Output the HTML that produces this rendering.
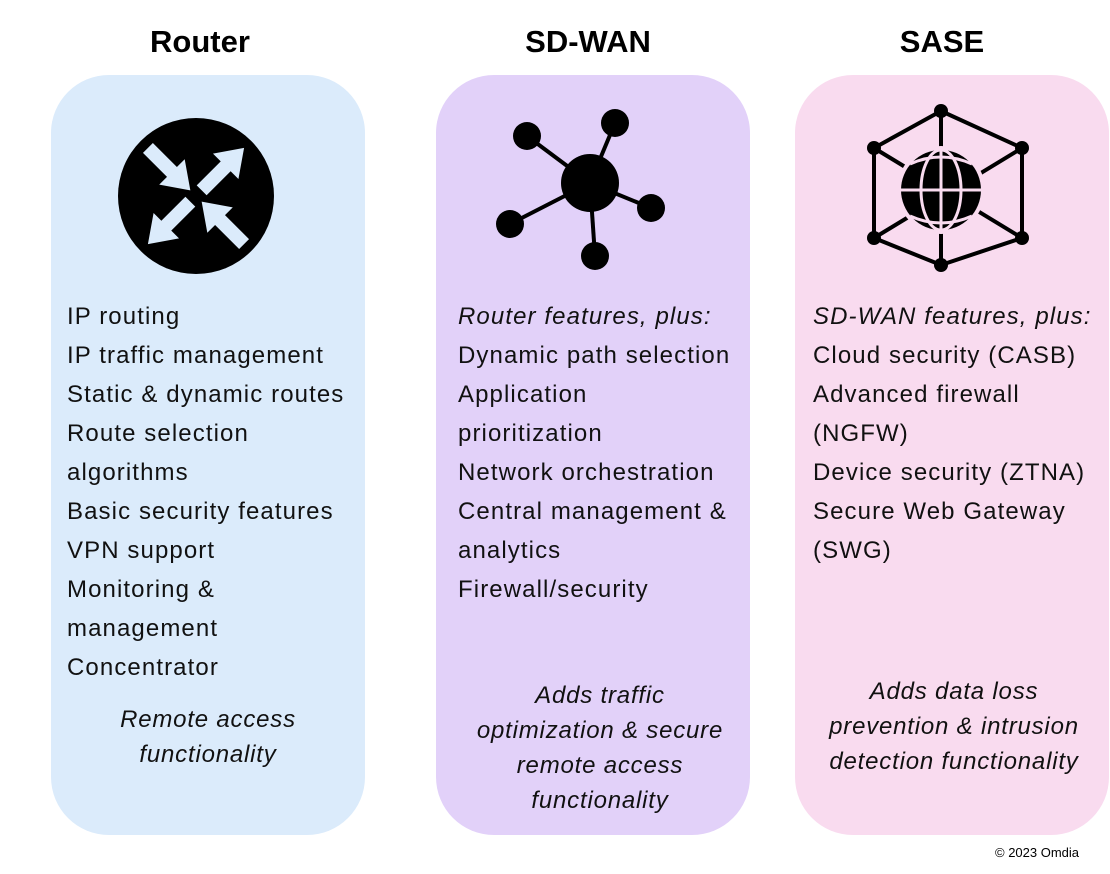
<!DOCTYPE html>
<html><head><meta charset="utf-8"><style>
body{margin:0;width:1110px;height:874px;background:#fff;position:relative;font-family:"Liberation Sans",Calibri,sans-serif;overflow:hidden}
.t{position:absolute;top:24px;font-weight:bold;font-size:31px;text-align:center;width:320px}
.b{position:absolute;top:75px;width:314px;height:760px;border-radius:58px}
.l{position:absolute;font-size:24px;letter-spacing:1.1px;line-height:39px;color:#111;white-space:nowrap}
.c{position:absolute;font-size:24px;letter-spacing:0.8px;line-height:35px;font-style:italic;text-align:center;width:340px;color:#111;white-space:nowrap}
i{font-style:italic}
</style></head><body>
<div class="t" style="left:40px">Router</div>
<div class="t" style="left:428px">SD-WAN</div>
<div class="t" style="left:782px">SASE</div>
<div class="b" style="left:51px;background:#dbebfb"></div>
<div class="b" style="left:436px;background:#e2d1f9"></div>
<div class="b" style="left:795px;background:#f9dbef"></div>
<svg width="1110" height="874" style="position:absolute;left:0;top:0">
<circle cx="196" cy="196" r="78" fill="#000"/>
<g fill="#dbebfb">
<g transform="translate(196,196) rotate(45)"><polygon points="-7,-8 7,-8 7,-42 18,-42 0,-68 -18,-42 -7,-42"/></g>
<g transform="translate(196,196) rotate(225)"><polygon points="-7,-8 7,-8 7,-42 18,-42 0,-68 -18,-42 -7,-42"/></g>
<g transform="translate(196,196) rotate(-45)"><polygon points="-7,-68 7,-68 7,-34 18,-34 0,-8 -18,-34 -7,-34"/></g>
<g transform="translate(196,196) rotate(135)"><polygon points="-7,-68 7,-68 7,-34 18,-34 0,-8 -18,-34 -7,-34"/></g>
</g>
<g stroke="#000" stroke-width="4">
<line x1="590" y1="183" x2="527" y2="136"/><line x1="590" y1="183" x2="615" y2="123"/><line x1="590" y1="183" x2="651" y2="208"/><line x1="590" y1="183" x2="510" y2="224"/><line x1="590" y1="183" x2="595" y2="256"/>
</g>
<g fill="#000"><circle cx="590" cy="183" r="29"/><circle cx="527" cy="136" r="14"/><circle cx="615" cy="123" r="14"/><circle cx="651" cy="208" r="14"/><circle cx="510" cy="224" r="14"/><circle cx="595" cy="256" r="14"/></g>
<g stroke="#000" stroke-width="4" fill="none">
<polyline points="941,111 1022,148 1022,238 941,265 874,238 874,148 941,111"/>
<line x1="941" y1="111" x2="941" y2="265"/>
<line x1="874" y1="148" x2="1022" y2="238"/><line x1="1022" y1="148" x2="874" y2="238"/>
</g>
<circle cx="941" cy="190" r="44" fill="#f9dbef"/>
<circle cx="941" cy="190" r="40" fill="#000"/>
<g stroke="#f9dbef" stroke-width="3" fill="none">
<line x1="899" y1="190" x2="983" y2="190"/><line x1="941" y1="148" x2="941" y2="232"/>
<ellipse cx="941" cy="190" rx="20" ry="40"/>
<path d="M910 164 Q941 150 972 164 M910 216 Q941 230 972 216"/>
</g>
<g fill="#000"><circle cx="941" cy="111" r="7"/><circle cx="1022" cy="148" r="7"/><circle cx="1022" cy="238" r="7"/><circle cx="941" cy="265" r="7"/><circle cx="874" cy="238" r="7"/><circle cx="874" cy="148" r="7"/></g>
</svg>
<div class="l" style="left:67px;top:297px">IP routing<br>IP traffic management<br>Static &amp; dynamic routes<br>Route selection<br>algorithms<br>Basic security features<br>VPN support<br>Monitoring &amp;<br>management<br>Concentrator</div>
<div class="l" style="left:458px;top:297px"><i>Router features, plus:</i><br>Dynamic path selection<br>Application<br>prioritization<br>Network orchestration<br>Central management &amp;<br>analytics<br>Firewall/security</div>
<div class="l" style="left:813px;top:297px"><i>SD-WAN features, plus:</i><br>Cloud security (CASB)<br>Advanced firewall<br>(NGFW)<br>Device security (ZTNA)<br>Secure Web Gateway<br>(SWG)</div>
<div class="c" style="left:38px;top:702px">Remote access<br>functionality</div>
<div class="c" style="left:430px;top:678px">Adds traffic<br>optimization &amp; secure<br>remote access<br>functionality</div>
<div class="c" style="left:784px;top:674px">Adds data loss<br>prevention &amp; intrusion<br>detection functionality</div>
<div style="position:absolute;left:995px;top:845px;font-size:13px">© 2023 Omdia</div>
</body></html>
